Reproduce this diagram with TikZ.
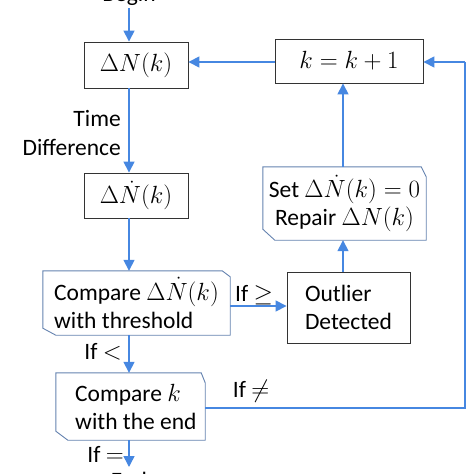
\documentclass[tikz,border=0pt]{standalone}
\usepackage{fontspec}
\setmainfont{Carlito}
\usetikzlibrary{arrows.meta}
\definecolor{arrowblue}{RGB}{70,135,225}
\definecolor{chamfcol}{RGB}{100,130,175}
\begin{document}
\begin{tikzpicture}[x=1pt,y=-1pt,
  every node/.style={font=\fontsize{23.5}{28}\selectfont},
  plainbox/.style={draw=black!80, line width=0.9pt, inner sep=0pt},
  ghostbox/.style={draw=none, inner sep=0pt},
  chamf/.style={draw=chamfcol, line width=0.9pt},
  flow/.style={draw=arrowblue, line width=1.5pt, -{Triangle[length=11pt,width=11pt]}},
  flowline/.style={draw=arrowblue, line width=1.5pt},
  lbl/.style={inner sep=0pt}]
\useasboundingbox (0,0) rectangle (474,474);

% plain boxes
\node[plainbox, minimum width=104pt, minimum height=46pt] (dn) at (136,65) {$\Delta N(k)$};
\node[plainbox, minimum width=104pt, minimum height=45pt] (dnd) at (136,195.5) {$\Delta \dot N(k)$};
\node[plainbox, minimum width=148pt, minimum height=44pt] (kk) at (349,61) {$k=k+1$};
\node[plainbox, minimum width=123pt, minimum height=71pt, align=left] (out) at (348.5,307.5) {Outlier\\Detected};

% chamfered boxes
\node[ghostbox, minimum width=163pt, minimum height=73pt, align=center] (set) at (344.5,203.5) {Set $\Delta\dot N(k)=0$\\Repair $\Delta N(k)$};
\node[ghostbox, minimum width=187pt, minimum height=64pt, align=left] (cmp1) at (136.5,303) {Compare $\Delta\dot N(k)$\\with threshold};
\node[ghostbox, minimum width=149pt, minimum height=67pt] (cmp2) at (130.5,406.5) {};
\node[lbl, anchor=west, align=left] (cmp2t) at (75,406.5) {Compare $k$\\with the end};

\foreach \n/\a/\b/\c/\d in {set/5/10/12/11, cmp1/8/6/13/7, cmp2/4/10/12/9}{
  \draw[chamf] (\n.north west) -- ([xshift=-\a pt]\n.north east) -- ([yshift=-\b pt]\n.north east)
    -- (\n.south east) -- ([xshift=\c pt]\n.south west) -- ([yshift=\d pt]\n.south west) -- cycle;
}

% begin / end
\node[lbl, anchor=base] (begin) at (129,1) {Begin};
\node[lbl, anchor=base] (end) at (129,488) {End};
\coordinate (bs) at (129,8);
\coordinate (ee) at (129,467);

% connectors
\draw[flow] (bs) -- (bs |- dn.north);
\draw[flow] (dn.south -| 129,0) -- (dnd.north -| 129,0);
\draw[flow] (dnd.south -| 129,0) -- (cmp1.north -| 129,0);
\draw[flow] (cmp1.south -| 129,0) -- (cmp2.north -| 129,0);
\draw[flow] (cmp2.south -| 129,0) -- (ee);

\coordinate (r1) at (cmp1.east |- 0,306);
\draw[flow] (r1) -- (out.west |- r1);
\draw[flow] (out.north -| 343,0) -- (set.south -| 343,0);
\draw[flow] (set.north -| 343,0) -- (kk.south -| 343,0);
\coordinate (k1) at (kk.west |- 0,62);
\draw[flow] (k1) -- (dn.east |- k1);

\coordinate (c2) at (cmp2.east |- 0,408);
\coordinate (rc) at (465,408);
\coordinate (rt) at (465,62);
\draw[flowline] (c2) -- (rc) -- (rt);
\draw[flow] (rt) -- (kk.east |- rt);

% labels
\node[lbl, anchor=east] (time) at (121,118) {Time};
\node[lbl, anchor=east] (diff) at (121,147) {Difference};
\node[lbl] (ifge) at (254,295) {If $\geq$};
\node[lbl, anchor=east] (iflt) at (122,352) {If $<$};
\node[lbl] (ifne) at (251,391) {If $\neq$};
\node[lbl, anchor=east] (ifeq) at (124,454) {If $=$};
\end{tikzpicture}
\end{document}
